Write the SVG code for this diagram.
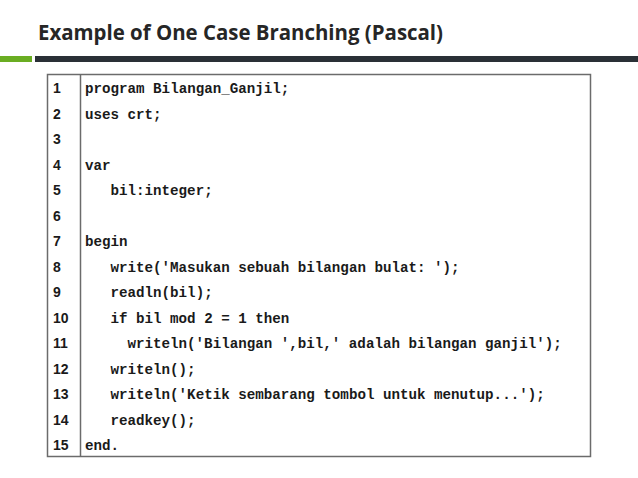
<svg xmlns="http://www.w3.org/2000/svg" width="638" height="478" viewBox="0 0 638 478">
<style>
.title{font-family:"Open Sans","Liberation Sans",sans-serif;font-weight:bold;font-size:22px;fill:#262626}
.num{font-family:"Liberation Sans",Arial,sans-serif;font-weight:bold;font-size:14px;fill:#1a1a1a}
.code{font-family:"Liberation Mono","Courier New",monospace;font-weight:bold;font-size:14.2px;fill:#1a1a1a;white-space:pre}
</style>
<rect width="638" height="478" fill="#ffffff"/>
<text class="title" x="38" y="40" textLength="405" lengthAdjust="spacingAndGlyphs">Example of One Case Branching (Pascal)</text>
<g id="bar">
<rect x="0" y="56" width="32" height="6" fill="#6aad22"/>
<rect x="35" y="56" width="603" height="6" fill="#2a3036"/>
</g>
<g id="table">
<rect x="47.5" y="74.5" width="543" height="382" fill="none" stroke="#6b6b6b" stroke-width="1.5"/>
<line x1="80.5" y1="74.5" x2="80.5" y2="456.5" stroke="#6b6b6b" stroke-width="1.5"/>
</g>
<g id="numbers">
<text class="num" x="53" y="93">1</text>
<text class="num" x="53" y="118.5">2</text>
<text class="num" x="53" y="144">3</text>
<text class="num" x="53" y="169.5">4</text>
<text class="num" x="53" y="195">5</text>
<text class="num" x="53" y="220.5">6</text>
<text class="num" x="53" y="246">7</text>
<text class="num" x="53" y="271.5">8</text>
<text class="num" x="53" y="297">9</text>
<text class="num" x="53" y="322.5">10</text>
<text class="num" x="53" y="348">11</text>
<text class="num" x="53" y="373.5">12</text>
<text class="num" x="53" y="399">13</text>
<text class="num" x="53" y="424.5">14</text>
<text class="num" x="53" y="450">15</text>
</g>
<g id="code">
<text class="code" x="85" y="93">program Bilangan_Ganjil;</text>
<text class="code" x="85" y="118.5">uses crt;</text>
<text class="code" x="85" y="169.5">var</text>
<text class="code" x="110.5" y="195">bil:integer;</text>
<text class="code" x="85" y="246">begin</text>
<text class="code" x="110.5" y="271.5">write('Masukan sebuah bilangan bulat: ');</text>
<text class="code" x="110.5" y="297">readln(bil);</text>
<text class="code" x="110.5" y="322.5">if bil mod 2 = 1 then</text>
<text class="code" x="127.5" y="348">writeln('Bilangan ',bil,' adalah bilangan ganjil');</text>
<text class="code" x="110.5" y="373.5">writeln();</text>
<text class="code" x="110.5" y="399">writeln('Ketik sembarang tombol untuk menutup...');</text>
<text class="code" x="110.5" y="424.5">readkey();</text>
<text class="code" x="85" y="450">end.</text>
</g>
</svg>
